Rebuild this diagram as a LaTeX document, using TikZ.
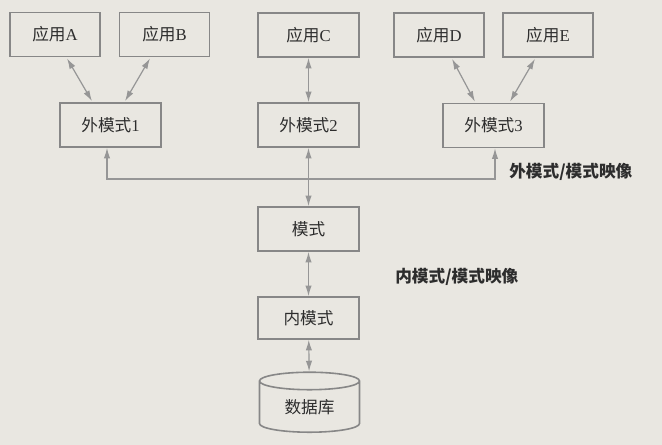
\documentclass[tikz,border=0pt]{standalone}
\usepackage{fontspec}
\setmainfont{Liberation Serif}
\newfontfamily\cjk{Noto Sans CJK SC}
\usepackage{tikz}
\usetikzlibrary{arrows.meta,shapes.geometric,calc}

\definecolor{paper}{RGB}{233,231,225}
\definecolor{rule}{RGB}{135,135,135}
\definecolor{wire}{RGB}{150,150,150}
\definecolor{ink}{RGB}{45,45,45}
\newcommand{\zh}[1]{{\cjk #1}}

\begin{document}
\begin{tikzpicture}[x=0.75pt,y=-0.75pt,
	box/.style={draw=rule,line width=1.2pt,minimum height=33pt,inner sep=0pt,text=ink,font=\fontsize{12.5}{15}\selectfont},
	appbox/.style={box,minimum width=67.5pt},
	wbox/.style={box,minimum width=75.75pt},
	link/.style={draw=wire,line width=0.9pt,{Latex[length=8pt,width=4.8pt]}-{Latex[length=8pt,width=4.8pt]}},
	lbl/.style={text=ink,inner sep=0pt,anchor=west,font=\fontsize{12.5}{15}\selectfont\bfseries}]
		\fill[paper] (0,0) rectangle (662,445);
		\useasboundingbox (0,0) rectangle (662,445);
		
		% applications
		\node (appA) [appbox] at (55,34.5) {\zh{应用}A};
		\node (appB) [appbox] at (164.5,34.5) {\zh{应用}B};
		\node (appC) [wbox] at (308.5,35) {\zh{应用}C};
		\node (appD) [appbox] at (439,35) {\zh{应用}D};
		\node (appE) [appbox] at (548,35) {\zh{应用}E};
		
		% external schemas
		\node (ext1) [wbox] at (110.5,125) {\zh{外模式}1};
		\node (ext2) [wbox] at (308.5,125) {\zh{外模式}2};
		\node (ext3) [wbox] at (493.5,125.5) {\zh{外模式}3};
		
		\node (sch) [wbox] at (308.5,229) {\zh{模式}};
		\node (inn) [wbox,minimum height=31.5pt] at (308.5,318) {\zh{内模式}};
		\node (db) [cylinder,shape border rotate=90,aspect=0.35,draw=rule,line width=1.2pt,minimum width=75pt,minimum height=45pt,inner sep=0pt,text=ink,font=\fontsize{12.5}{15}\selectfont] at (309.5,407) {\zh{数据库}};
		
		\draw[link] ($(appA.south)+(12,1)$)--($(ext1.north)+(-18.5,-1)$);
		\draw[link] ($(appB.south)+(-14.5,1)$)--($(ext1.north)+(14.5,-1)$);
		\draw[link] ($(appD.south)+(13,1)$)--($(ext3.north)+(-18.5,-1)$);
		\draw[link] ($(appE.south)+(-13,1)$)--($(ext3.north)+(16.5,-1)$);
		\draw[link] (appC)--(ext2);
		\draw[link] (ext2)--(sch); \draw[link] (sch)--(inn); \draw[link] (inn)--(db);
		
		\coordinate (mapL) at (107,179);
		\draw[link] ($(ext1.south)+(-3.5,0)$)--(mapL)-|($(ext3.south)+(1.5,0)$);
		
		\node (extmap) [lbl] at (509,172) {\zh{外模式/模式映像}};
		\node (innmap) [lbl] at (395,277) {\zh{内模式/模式映像}};
	\end{tikzpicture}
\end{document}
